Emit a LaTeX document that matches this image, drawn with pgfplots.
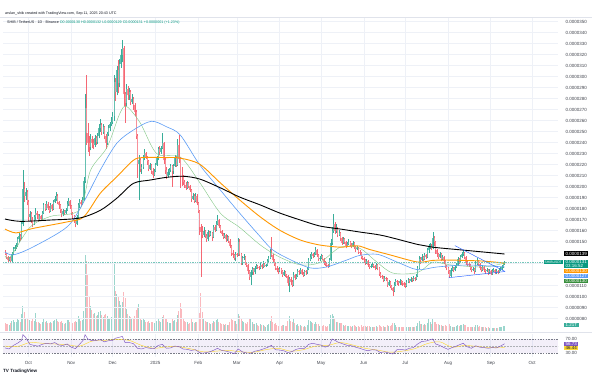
\documentclass[border=0pt]{standalone}
\usepackage{fontspec}
\setmainfont{Liberation Sans}
\usepackage{pgfplots}
\usepackage{pgfplotstable}
\pgfplotsset{compat=1.18}
\definecolor{tvup}{HTML}{089981}
\definecolor{tvdn}{HTML}{F23645}
\definecolor{gridc}{HTML}{EEF1F7}
\definecolor{txt}{HTML}{131722}
\definecolor{maor}{HTML}{FF9800}
\definecolor{mabl}{HTML}{5B9CF6}
\definecolor{magr}{HTML}{81C784}
\definecolor{lblgr}{HTML}{388E3C}
\definecolor{rsic}{HTML}{7E57C2}
\definecolor{rsima}{HTML}{FDD835}
\definecolor{tline}{HTML}{2962FF}
\definecolor{sepc}{HTML}{E0E3EB}
\definecolor{bandc}{HTML}{787B86}
\newcommand{\lf}{\fontsize{4.5}{5}\selectfont}
\newcommand{\ttlf}{\fontsize{3.7}{4.2}\selectfont}

\pgfplotstableread{
d o h l c v
0 14.05 14.20 13.75 13.90 1.8
1 13.90 14.00 13.45 13.60 1.5
2 13.60 13.70 13.15 13.30 1.6
3 13.30 13.65 13.20 13.50 1.4
4 13.50 13.60 13.05 13.20 1.7
5 13.20 14.05 13.10 13.90 2.2
6 13.90 14.50 13.80 14.30 2.4
7 14.30 14.70 14.15 14.50 2.0
8 14.50 14.85 14.30 14.60 1.9
9 14.60 15.40 14.50 15.20 2.6
10 15.20 15.80 15.00 15.50 2.5
11 15.50 15.70 15.05 15.30 2.1
12 15.30 16.90 15.20 16.60 3.8
13 16.60 21.50 16.40 19.80 5.6
14 19.80 20.40 18.60 19.20 4.2
15 19.20 19.90 18.80 19.50 3.0
16 19.50 19.70 18.30 18.60 2.9
17 18.60 18.80 16.90 17.20 3.6
18 17.20 17.80 16.90 17.50 2.4
19 17.50 17.70 16.70 17.00 2.2
20 17.00 17.20 16.30 16.60 2.6
21 16.60 17.40 16.50 17.20 2.3
22 17.20 18.10 17.00 17.60 4.0
23 17.60 17.80 17.10 17.40 2.0
24 17.40 17.50 16.80 17.00 1.9
25 17.00 17.50 16.90 17.30 1.7
26 17.30 17.40 16.90 17.10 1.6
27 17.10 17.80 17.00 17.60 1.9
28 17.60 18.50 17.50 18.30 2.6
29 18.30 18.40 17.80 18.00 2.0
30 18.00 18.70 17.90 18.40 2.2
31 18.40 18.60 17.90 18.10 1.8
32 18.10 18.20 17.60 17.80 1.7
33 17.80 18.50 17.70 18.30 2.0
34 18.30 18.40 17.80 18.00 1.7
35 18.00 18.80 17.90 18.60 2.3
36 18.60 19.20 18.50 18.90 2.4
37 18.90 19.50 18.70 19.20 2.6
38 19.20 19.30 18.40 18.60 2.2
39 18.60 18.70 18.00 18.30 2.0
40 18.30 18.40 17.60 17.90 2.1
41 17.90 18.00 17.20 17.50 2.3
42 17.50 18.00 17.30 17.80 1.8
43 17.80 17.90 17.40 17.60 1.6
44 17.60 18.10 17.50 17.90 1.7
45 17.90 18.70 17.80 18.40 2.4
46 18.40 19.00 18.20 18.70 2.5
47 18.70 18.80 18.00 18.20 2.0
48 18.20 18.30 17.40 17.60 2.1
49 17.60 17.70 17.10 17.30 1.8
50 17.30 17.40 16.70 16.90 1.9
51 16.90 17.00 16.30 16.60 2.2
52 16.60 17.40 16.50 17.20 2.0
53 17.20 18.50 17.10 18.30 3.4
54 18.30 18.90 18.10 18.60 2.8
55 18.60 18.80 18.20 18.40 2.2
56 18.40 19.10 18.30 18.80 2.4
57 18.80 20.90 18.70 20.50 4.5
58 20.50 28.40 20.30 27.20 17.0
59 27.20 30.20 23.80 24.90 15.5
60 24.90 25.80 23.20 24.00 12.6
61 24.00 24.60 22.80 23.60 7.5
62 23.60 24.80 23.30 24.30 5.5
63 24.30 24.60 23.50 24.00 4.6
64 24.00 24.30 23.40 23.80 3.8
65 23.80 24.70 23.60 24.40 4.0
66 24.40 24.60 23.80 24.10 3.4
67 24.10 24.90 23.90 24.60 3.6
68 24.60 25.70 24.40 25.30 4.2
69 25.30 26.20 25.00 25.60 4.4
70 25.60 25.80 24.70 25.00 3.6
71 25.00 25.70 24.80 25.40 3.2
72 25.40 25.50 24.30 24.60 3.5
73 24.60 24.80 23.40 24.00 3.8
74 24.00 25.00 23.80 24.80 3.3
75 24.80 25.60 24.60 25.30 3.0
76 25.30 25.90 25.10 25.70 2.9
77 25.70 26.30 25.50 25.90 3.1
78 25.90 26.80 25.70 26.40 3.8
79 26.40 30.20 26.00 29.50 14.9
80 29.50 29.90 27.80 28.60 9.0
81 28.60 31.00 28.30 30.60 8.2
82 30.60 31.50 28.50 29.40 7.8
83 29.40 31.60 29.10 31.20 6.6
84 31.20 32.50 30.80 32.00 5.8
85 32.00 33.30 31.30 32.60 6.4
86 32.60 32.80 27.30 28.40 8.8
87 28.40 28.60 25.80 27.60 7.4
88 27.60 29.30 27.30 28.90 5.0
89 28.90 29.20 27.90 28.30 3.8
90 28.30 29.00 27.90 28.60 3.4
91 28.60 28.80 27.40 27.70 3.2
92 27.70 28.40 27.50 28.00 2.8
93 28.00 28.20 27.00 27.40 3.0
94 27.40 27.60 26.40 26.80 3.4
95 26.80 27.00 24.30 24.60 4.6
96 24.60 24.80 20.80 22.10 5.2
97 22.10 22.90 18.80 22.40 6.0
98 22.40 22.60 21.30 21.60 3.0
99 21.60 22.10 21.20 21.80 2.5
100 21.80 22.90 21.60 22.60 2.6
101 22.60 23.40 22.40 23.10 2.4
102 23.10 23.20 22.50 22.70 2.0
103 22.70 22.80 22.00 22.30 1.9
104 22.30 22.40 21.40 21.60 2.2
105 21.60 22.20 21.50 22.00 1.7
106 22.00 22.10 21.20 21.40 1.9
107 21.40 21.70 20.80 21.10 2.1
108 21.10 21.60 21.00 21.40 1.8
109 21.40 22.20 21.30 22.00 2.0
110 22.00 22.80 21.90 22.60 2.3
111 22.60 23.60 22.40 23.40 2.7
112 23.40 23.70 22.90 23.20 2.2
113 23.20 23.70 23.00 23.50 2.0
114 23.50 24.90 23.40 24.00 3.2
115 24.00 24.10 22.10 22.40 3.6
116 22.40 22.60 21.20 21.50 3.0
117 21.50 21.80 20.70 21.00 2.6
118 21.00 21.60 20.90 21.30 2.0
119 21.30 21.70 21.10 21.50 1.7
120 21.50 22.10 21.30 21.90 1.8
121 21.90 22.00 20.00 21.40 3.0
122 21.40 22.10 21.20 21.90 2.2
123 21.90 22.90 21.80 22.60 2.5
124 22.60 22.80 21.80 22.00 2.1
125 22.00 24.30 21.90 23.80 3.6
126 23.80 24.70 22.20 22.50 4.4
127 22.50 22.70 19.90 21.00 6.2
128 21.00 21.80 20.10 20.90 4.8
129 20.90 21.10 20.20 20.40 2.6
130 20.40 20.60 19.90 20.20 2.2
131 20.20 20.40 19.70 19.90 2.0
132 19.90 20.50 19.80 20.30 1.9
133 20.30 20.40 19.90 20.10 1.6
134 20.10 20.20 19.50 19.70 1.8
135 19.70 19.80 18.60 18.90 2.6
136 18.90 19.40 18.80 19.20 1.9
137 19.20 19.30 18.50 18.70 1.8
138 18.70 19.40 18.60 19.20 1.9
139 19.20 19.30 18.30 18.50 2.0
140 18.50 18.60 17.60 17.80 2.2
141 17.80 17.90 15.60 16.30 4.0
142 16.30 16.60 11.80 15.90 8.4
143 15.90 16.40 15.30 15.60 4.2
144 15.60 16.30 15.40 16.00 2.8
145 16.00 16.10 15.30 15.50 2.2
146 15.50 15.70 15.00 15.20 2.0
147 15.20 16.10 15.10 15.90 2.1
148 15.90 16.00 15.40 15.60 1.7
149 15.60 16.00 15.50 15.80 1.6
150 15.80 15.90 15.10 15.40 1.7
151 15.40 16.50 15.30 16.30 2.3
152 16.30 16.50 15.90 16.10 1.9
153 16.10 16.90 16.00 16.60 2.4
154 16.60 17.40 16.50 17.00 2.8
155 17.00 17.10 16.20 16.40 2.0
156 16.40 16.50 15.80 16.00 1.7
157 16.00 16.10 15.50 15.70 1.6
158 15.70 15.80 15.20 15.40 1.5
159 15.40 15.80 15.30 15.60 1.4
160 15.60 15.70 15.00 15.20 1.5
161 15.20 15.60 15.10 15.40 1.3
162 15.40 15.50 14.90 15.10 1.4
163 15.10 15.20 14.40 14.60 2.0
164 14.60 14.70 13.70 14.00 3.0
165 14.00 14.20 13.50 13.80 2.4
166 13.80 13.90 13.30 13.50 2.2
167 13.50 14.10 13.20 13.90 2.3
168 13.90 14.00 13.60 13.80 1.6
169 13.80 15.30 13.70 15.00 3.9
170 15.00 15.20 13.70 13.90 3.4
171 13.90 14.00 12.90 13.10 2.6
172 13.10 13.70 12.90 13.50 2.3
173 13.50 13.90 13.30 13.60 2.0
174 13.60 13.70 12.90 13.00 1.8
175 13.00 13.10 12.70 12.90 1.5
176 12.90 13.00 12.10 12.30 2.0
177 12.30 12.40 11.50 11.80 2.6
178 11.80 12.40 11.10 12.20 2.8
179 12.20 12.70 12.00 12.50 2.1
180 12.50 12.60 12.00 12.20 1.6
181 12.20 12.80 12.10 12.60 1.6
182 12.60 13.00 12.50 12.80 1.7
183 12.80 12.90 12.50 12.70 1.3
184 12.70 12.80 12.40 12.60 1.2
185 12.60 13.10 12.50 12.90 1.5
186 12.90 13.00 12.50 12.70 1.3
187 12.70 13.20 12.60 13.00 1.4
188 13.00 13.10 12.70 12.80 1.2
189 12.80 13.00 12.70 12.90 1.0
190 12.90 13.40 12.80 13.20 1.3
191 13.20 13.70 13.10 13.50 1.6
192 13.50 14.30 13.40 14.00 2.2
193 14.00 15.40 13.60 13.80 3.4
194 13.80 13.90 13.10 13.30 2.0
195 13.30 13.40 12.80 13.00 1.6
196 13.00 13.10 12.40 12.60 1.7
197 12.60 12.80 12.20 12.40 1.4
198 12.40 12.60 12.10 12.30 1.2
199 12.30 12.70 12.20 12.50 1.3
200 12.50 12.60 12.10 12.30 1.2
201 12.30 12.40 11.80 12.00 1.4
202 12.00 12.40 11.90 12.20 1.3
203 12.20 12.30 11.80 12.00 1.2
204 12.00 12.10 11.70 11.90 1.1
205 11.90 12.00 11.00 11.20 2.2
206 11.20 11.80 10.40 11.60 3.4
207 11.60 11.80 11.10 11.30 2.3
208 11.30 11.50 10.90 11.10 1.9
209 11.10 12.20 11.00 12.00 2.8
210 12.00 12.10 11.50 11.70 1.8
211 11.70 12.10 11.60 11.90 1.4
212 11.90 12.50 11.80 12.30 1.5
213 12.30 12.40 12.00 12.20 1.2
214 12.20 12.60 12.10 12.40 1.3
215 12.40 12.50 12.00 12.10 1.1
216 12.10 12.20 11.80 12.00 1.0
217 12.00 12.40 11.90 12.30 1.1
218 12.30 12.40 12.00 12.20 1.0
219 12.20 12.70 12.10 12.50 1.3
220 12.50 13.50 12.40 13.30 2.4
221 13.30 13.90 13.20 13.60 2.3
222 13.60 14.10 13.40 13.90 2.1
223 13.90 14.00 13.50 13.70 1.7
224 13.70 14.10 13.60 13.90 1.6
225 13.90 14.50 13.80 14.20 1.9
226 14.20 14.30 13.60 13.80 1.6
227 13.80 13.90 13.20 13.40 1.5
228 13.40 13.70 13.20 13.50 1.2
229 13.50 13.90 13.40 13.70 1.3
230 13.70 13.80 13.30 13.40 1.2
231 13.40 13.50 12.90 13.10 1.3
232 13.10 13.20 12.80 13.00 1.1
233 13.00 13.10 12.70 12.90 1.0
234 12.90 13.00 12.60 12.80 1.1
235 12.80 13.50 12.70 13.30 1.6
236 13.30 15.20 13.20 14.90 3.6
237 14.90 16.30 14.70 16.00 3.8
238 16.00 17.50 15.80 16.60 3.4
239 16.60 16.80 15.70 16.00 2.6
240 16.00 16.60 15.80 16.20 2.0
241 16.20 16.30 15.40 15.60 2.1
242 15.60 16.10 15.50 15.80 1.7
243 15.80 15.90 15.10 15.30 1.8
244 15.30 15.40 14.70 14.90 1.7
245 14.90 15.40 14.80 15.20 1.4
246 15.20 15.30 14.80 15.00 1.2
247 15.00 15.10 14.40 14.60 1.4
248 14.60 15.00 14.50 14.80 1.2
249 14.80 15.20 14.70 15.00 1.2
250 15.00 15.10 14.60 14.70 1.1
251 14.70 14.90 14.40 14.60 1.0
252 14.60 15.10 14.50 14.90 1.2
253 14.90 15.00 14.30 14.50 1.3
254 14.50 14.60 14.10 14.30 1.2
255 14.30 14.60 14.20 14.40 1.0
256 14.40 14.50 13.90 14.10 1.1
257 14.10 14.20 13.80 14.00 1.0
258 14.00 14.10 13.40 13.60 1.3
259 13.60 13.70 13.30 13.50 1.0
260 13.50 13.60 13.10 13.30 1.1
261 13.30 13.40 12.90 13.10 1.2
262 13.10 13.40 13.00 13.20 1.0
263 13.20 13.30 12.70 12.90 1.2
264 12.90 13.00 12.50 12.70 1.1
265 12.70 13.00 12.60 12.80 1.0
266 12.80 13.10 12.70 12.90 0.9
267 12.90 13.00 12.60 12.80 0.9
268 12.80 12.90 12.40 12.60 1.0
269 12.60 13.10 12.50 12.90 1.1
270 12.90 13.00 12.40 12.60 1.0
271 12.60 12.70 11.90 12.10 1.4
272 12.10 12.20 11.70 11.90 1.2
273 11.90 12.00 11.60 11.80 1.0
274 11.80 11.90 11.30 11.50 1.2
275 11.50 11.90 11.40 11.70 1.0
276 11.70 11.80 11.40 11.60 0.9
277 11.60 11.70 10.90 11.10 1.3
278 11.10 11.50 11.00 11.30 1.1
279 11.30 11.40 10.80 11.00 1.2
280 11.00 11.10 10.60 10.80 1.3
281 10.80 10.90 10.10 10.50 1.8
282 10.50 11.30 10.40 11.10 1.7
283 11.10 11.60 11.00 11.40 1.4
284 11.40 11.50 11.10 11.30 1.0
285 11.30 11.40 11.00 11.20 0.9
286 11.20 11.60 11.10 11.40 0.9
287 11.40 11.50 11.10 11.30 0.8
288 11.30 11.40 11.00 11.20 0.8
289 11.20 11.30 10.90 11.10 0.9
290 11.10 11.20 10.80 11.00 0.9
291 11.00 11.50 10.90 11.30 1.0
292 11.30 11.70 11.20 11.50 1.0
293 11.50 11.60 11.20 11.40 0.8
294 11.40 11.80 11.30 11.60 0.9
295 11.60 11.70 11.30 11.50 0.8
296 11.50 11.90 11.40 11.70 0.9
297 11.70 11.80 11.40 11.60 0.8
298 11.60 12.10 11.50 11.90 1.1
299 11.90 12.80 11.80 12.60 1.8
300 12.60 13.70 12.50 13.40 2.2
301 13.40 13.60 13.00 13.30 1.6
302 13.30 13.90 13.20 13.60 1.5
303 13.60 13.70 13.20 13.40 1.3
304 13.40 14.00 13.30 13.80 1.5
305 13.80 13.90 13.40 13.60 1.3
306 13.60 14.40 13.50 14.20 1.8
307 14.20 14.80 14.00 14.50 2.7
308 14.50 14.90 14.30 14.60 2.0
309 14.60 14.80 14.20 14.40 1.6
310 14.40 15.90 14.30 15.30 2.6
311 15.30 15.50 14.60 15.00 2.0
312 15.00 15.10 13.90 14.20 1.9
313 14.20 14.30 13.60 13.90 1.6
314 13.90 14.00 13.40 13.60 1.5
315 13.60 14.10 13.50 13.90 1.3
316 13.90 14.00 13.20 13.40 1.4
317 13.40 13.80 13.30 13.60 1.1
318 13.60 13.70 13.00 13.20 1.2
319 13.20 13.30 12.60 12.80 1.3
320 12.80 12.90 12.40 12.60 1.1
321 12.60 12.70 12.10 12.30 1.3
322 12.30 12.40 11.70 11.90 1.5
323 11.90 12.60 11.80 12.40 1.2
324 12.40 12.80 12.30 12.60 1.0
325 12.60 12.70 12.20 12.40 0.9
326 12.40 12.90 12.30 12.70 1.0
327 12.70 13.10 12.60 12.90 1.1
328 12.90 13.60 12.80 13.40 1.4
329 13.40 13.50 13.00 13.20 1.1
330 13.20 13.80 13.10 13.60 1.3
331 13.60 14.10 13.50 13.90 1.4
332 13.90 14.20 13.70 14.00 1.5
333 14.00 14.10 13.40 13.60 1.3
334 13.60 13.70 12.90 13.10 1.4
335 13.10 13.20 12.80 13.00 1.0
336 13.00 13.10 12.70 12.90 0.9
337 12.90 13.00 12.40 12.60 1.0
338 12.60 12.70 12.20 12.40 1.0
339 12.40 12.70 12.30 12.50 0.8
340 12.50 12.60 12.10 12.30 0.9
341 12.30 13.20 12.20 13.00 1.4
342 13.00 13.50 12.90 13.20 1.3
343 13.20 13.30 12.80 13.00 1.0
344 13.00 13.10 12.40 12.60 1.1
345 12.60 12.70 12.20 12.40 0.9
346 12.40 12.90 12.30 12.70 0.9
347 12.70 12.80 12.20 12.40 0.9
348 12.40 12.50 12.10 12.30 0.8
349 12.30 12.60 12.20 12.40 0.7
350 12.40 12.50 12.00 12.20 0.8
351 12.20 12.50 12.10 12.30 0.7
352 12.30 12.40 11.95 12.10 0.8
353 12.10 12.50 12.00 12.30 0.7
354 12.30 12.60 12.20 12.40 0.7
355 12.40 12.50 12.05 12.20 0.7
356 12.20 12.50 12.10 12.30 0.6
357 12.30 12.40 12.05 12.20 0.6
358 12.20 12.60 12.15 12.40 0.8
359 12.40 12.70 12.30 12.50 0.8
360 12.50 12.90 12.40 12.70 1.0
361 12.70 13.10 12.60 12.95 1.1
362 12.95 13.22 12.90 13.10 1.21
}\ohlc

\begin{document}
\begin{tikzpicture}
\useasboundingbox (0,0) rectangle (592bp,374bp);
\fill[white] (0,0) rectangle (592bp,374bp);

% ---------- volume (behind the price) ----------
\begin{axis}[at={(3bp,43bp)}, anchor=south west, scale only axis,
  width=555bp, height=314bp, xmin=-1.45, xmax=400.7, ymin=0, ymax=70,
  hide axis]
\addplot[ycomb, draw=tvup!40!white, line width=0.95bp,
  restrict expr to domain={\thisrow{c}-\thisrow{o}}{0:100}]
  table[x=d, y=v] {\ohlc};
\addplot[ycomb, draw=tvdn!35!white, line width=0.95bp,
  restrict expr to domain={\thisrow{c}-\thisrow{o}}{-100:-0.0001}]
  table[x=d, y=v] {\ohlc};
\end{axis}

% ---------- price pane ----------
\begin{axis}[at={(3bp,43bp)}, anchor=south west, scale only axis,
  width=555bp, height=314bp, xmin=-1.45, xmax=400.7, ymin=6.88, ymax=35.43,
  axis line style={draw=none}, major tick length=0pt,
  xtick={17,48,78,109,140,168,199,229,260,290,321,352,382}, xticklabels={},
  ytick={8,9,...,35},
  yticklabels={0.0000080,0.0000090,0.0000100,0.0000110,,,,0.0000150,0.0000160,0.0000170,0.0000180,0.0000190,0.0000200,0.0000210,0.0000220,0.0000230,0.0000240,0.0000250,0.0000260,0.0000270,0.0000280,0.0000290,0.0000300,0.0000310,0.0000320,0.0000330,0.0000340,0.0000350},
  yticklabel pos=right,
  yticklabel style={font=\lf, text=txt!80!white, anchor=west, inner xsep=1.5bp, xshift=6bp},
  grid=major, major grid style={draw=gridc, line width=0.6bp},
  clip mode=individual]

% wicks
\addplot[draw=none, mark=none,
  restrict expr to domain={\thisrow{c}-\thisrow{o}}{0:100},
  error bars/.cd, y dir=plus, y explicit, error mark=none,
  error bar style={draw=tvup!80!white, solid, line width=0.3bp}]
  table[x=d, y=l, y error plus expr={\thisrow{h}-\thisrow{l}}] {\ohlc};
\addplot[draw=none, mark=none,
  restrict expr to domain={\thisrow{c}-\thisrow{o}}{-100:-0.0001},
  error bars/.cd, y dir=plus, y explicit, error mark=none,
  error bar style={draw=tvdn!75!white, solid, line width=0.3bp}]
  table[x=d, y=l, y error plus expr={\thisrow{h}-\thisrow{l}}] {\ohlc};
% bodies
\addplot[draw=none, mark=none,
  restrict expr to domain={\thisrow{c}-\thisrow{o}}{0:100},
  error bars/.cd, y dir=plus, y explicit, error mark=none,
  error bar style={draw=tvup!62!white, solid, line width=0.95bp}]
  table[x=d, y expr={min(\thisrow{o},\thisrow{c})}, y error plus expr={max(abs(\thisrow{c}-\thisrow{o}),0.08)}] {\ohlc};
\addplot[draw=none, mark=none,
  restrict expr to domain={\thisrow{c}-\thisrow{o}}{-100:-0.0001},
  error bars/.cd, y dir=plus, y explicit, error mark=none,
  error bar style={draw=tvdn!55!white, solid, line width=0.95bp}]
  table[x=d, y expr={min(\thisrow{o},\thisrow{c})}, y error plus expr={max(abs(\thisrow{c}-\thisrow{o}),0.08)}] {\ohlc};

% moving averages
\addplot[magr, line width=0.4bp, smooth] coordinates {
(0,13.7) (4,13.64) (18,16.3) (33,17.3) (54,17.9) (62,21.5) (74,23.6) (83,26.6) (88,27.3) (98,25.8) (110,23.0) (127,22.7) (141,20.4) (156,17.6) (170,16.3) (185,14.7) (199,13.6) (214,12.9) (228,13.1) (243,14.5) (257,14.4) (268,13.3) (281,12.15) (299,12.2) (310,13.15) (322,12.9) (346,12.7) (362,13.05)};
\addplot[mabl, line width=0.6bp, smooth] coordinates {
(0,14.06) (6,13.8) (20,14.5) (45,16.35) (57,18.6) (69,21.5) (81,23.95) (93,25.15) (106,25.95) (117,25.45) (127,24.7) (141,22.0) (156,19.7) (170,17.6) (185,15.45) (194,14.25) (207,13.35) (221,12.62) (233,12.7) (248,13.35) (257,13.75) (270,13.85) (285,13.1) (299,12.45) (313,12.7) (335,12.88) (362,12.7)};
\addplot[maor, line width=0.9bp, smooth] coordinates {
(0,16.15) (8,15.8) (20,16.2) (45,16.8) (57,17.25) (69,19.4) (81,20.9) (93,22.4) (100,22.65) (117,22.65) (127,22.6) (141,22.05) (156,20.35) (170,18.8) (185,17.25) (199,16.05) (214,15.15) (228,14.7) (243,14.5) (250,14.6) (257,14.6) (264,14.3) (279,13.8) (299,13.15) (310,13.3) (322,13.33) (346,13.24) (362,13.05)};
\addplot[black, line width=0.9bp, smooth] coordinates {
(0,17.06) (11,16.85) (33,16.97) (54,17.15) (69,17.85) (81,18.95) (93,20.3) (105,20.6) (117,20.85) (129,20.95) (141,20.7) (156,19.9) (170,19.06) (185,18.34) (199,17.61) (214,16.97) (228,16.43) (243,16.15) (257,15.88) (274,15.55) (299,14.75) (310,14.5) (335,14.2) (362,13.88)};

% triangle trendlines
\addplot[tline, line width=0.45bp] coordinates {(326,14.64) (362.3,12.29)};
\addplot[tline, line width=0.45bp] coordinates {(321.7,11.73) (362.3,12.29)};

% last price line
\addplot[tvup!55!white, line width=0.35bp, dash pattern=on 0.6bp off 1.1bp] coordinates {(-1.45,13.1) (400.7,13.1)};

% price scale labels
\node[fill=black, text=white, font=\lf, anchor=west, inner xsep=1.5bp, inner ysep=0.6bp, xshift=6bp] at (axis cs:400.7,13.93) {0.0000139};
\node[fill=tvup, text=white, font=\lf, anchor=west, inner xsep=1.5bp, inner ysep=0.5bp, xshift=6bp, align=left] at (axis cs:400.7,12.97) {0.0000131\\[-0.6bp]03:16:52};
\node[fill=maor, text=white, font=\lf, anchor=west, inner xsep=1.5bp, inner ysep=0.6bp, xshift=6bp] at (axis cs:400.7,12.36) {0.0000130};
\node[fill=mabl, text=white, font=\lf, anchor=west, inner xsep=1.5bp, inner ysep=0.6bp, xshift=6bp] at (axis cs:400.7,11.9) {0.0000127};
\node[fill=lblgr, text=white, font=\lf, anchor=west, inner xsep=1.5bp, inner ysep=0.6bp, xshift=6bp] at (axis cs:400.7,11.44) {0.0000130};
\node[fill=tvup, text=white, font=\fontsize{3.4}{4}\selectfont, anchor=east, inner xsep=1bp, inner ysep=0.8bp, xshift=5bp] at (axis cs:400.7,13.15) {SHIBUSDT};
\node[fill=tvup!80!white, text=white, font=\lf, anchor=west, inner xsep=1.5bp, inner ysep=0.6bp, xshift=6bp] at (axis cs:400.7,7.45) {1.21T};
\end{axis}

% ---------- RSI pane ----------
\begin{axis}[at={(3bp,17.3bp)}, anchor=south west, scale only axis,
  width=555bp, height=22.4bp, xmin=-1.45, xmax=400.7, ymin=20.5, ymax=83,
  axis line style={draw=none}, major tick length=0pt,
  xtick={17,48,78,109,140,168,199,229,260,290,321,352,382},
  xticklabels={Oct,Nov,Dec,2025,Feb,Mar,Apr,May,Jun,Jul,Aug,Sep,Oct},
  xticklabel style={font=\lf, text=txt!80!white, yshift=-1.2bp},
  ytick={30,70}, yticklabels={30.00,70.00},
  yticklabel pos=right,
  yticklabel style={font=\lf, text=txt!80!white, anchor=west, inner xsep=1.5bp, xshift=6bp},
  xmajorgrids, major grid style={draw=gridc, line width=0.6bp},
  clip mode=individual]
\addplot[draw=none, fill=rsic, fill opacity=0.09] coordinates {(-1.45,30) (400.7,30) (400.7,70) (-1.45,70)} -- cycle;
\addplot[bandc, line width=0.3bp, dash pattern=on 1.5bp off 1.2bp] coordinates {(-1.45,70) (400.7,70)};
\addplot[bandc, line width=0.3bp, dash pattern=on 1.5bp off 1.2bp] coordinates {(-1.45,30) (400.7,30)};
\addplot[bandc!60!white, line width=0.25bp, dash pattern=on 0.5bp off 1bp] coordinates {(-1.45,50) (400.7,50)};
\addplot[rsima, line width=0.45bp, smooth] coordinates {
(0,50) (9,49) (18,60) (27,58) (36,56) (45,54) (54,50) (63,64) (72,66) (81,68) (90,66) (99,52) (108,44) (117,48) (126,48) (135,42) (144,34) (153,36) (162,38) (171,34) (180,33) (189,40) (198,44) (207,36) (216,40) (225,50) (234,52) (243,60) (252,53) (261,44) (270,39) (279,33) (288,36) (297,43) (306,57) (315,62) (324,47) (333,52) (342,49) (351,46) (362,46.44)};
\addplot[rsic, line width=0.45bp] coordinates {
(0,45) (3,42) (6,52) (9,58) (12,66) (13,82) (15,74) (18,55) (21,52) (24,50) (27,55) (30,58) (33,56) (36,60) (39,53) (42,52) (45,56) (48,47) (51,43) (54,55) (57,68) (58,82) (60,70) (63,65) (66,66) (69,68) (72,62) (75,65) (78,66) (80,72) (82,74) (85,77) (87,60) (90,60) (93,57) (96,44) (99,42) (102,46) (105,44) (108,43) (111,52) (114,55) (117,44) (120,45) (123,50) (126,49) (129,42) (132,41) (135,38) (138,40) (141,32) (143,30) (146,32) (149,35) (152,40) (154,44) (157,38) (160,36) (163,33) (166,29) (169,42) (172,34) (175,31) (178,30) (181,36) (184,38) (187,42) (190,46) (193,52) (196,40) (199,39) (202,37) (205,32) (208,35) (211,41) (214,44) (217,44) (220,55) (223,58) (226,55) (229,53) (232,47) (235,52) (237,70) (239,66) (242,60) (245,56) (248,52) (251,51) (254,47) (257,44) (260,40) (263,37) (266,40) (269,39) (272,32) (275,34) (278,31) (281,28) (284,40) (287,41) (290,39) (293,44) (296,46) (299,56) (302,63) (305,64) (308,68) (310,70) (312,56) (315,52) (318,46) (321,41) (324,46) (327,50) (330,55) (332,58) (335,48) (338,44) (341,51) (344,47) (347,46) (350,44) (353,46) (356,45) (359,50) (362,56.73)};
\node[fill=rsic, text=white, font=\lf, anchor=west, inner xsep=1.5bp, inner ysep=0.5bp, xshift=6bp] at (axis cs:400.7,56.73) {56.73};
\node[fill=rsima, text=txt, font=\lf, anchor=west, inner xsep=1.5bp, inner ysep=0.5bp, xshift=6bp] at (axis cs:400.7,45.0) {46.44};
\end{axis}

% pane borders and texts
\draw[sepc, line width=0.5bp] (0,356.7bp) -- (592bp,356.7bp);
\draw[sepc, line width=0.5bp] (0,41.6bp) -- (592bp,41.6bp);
\node[anchor=west, font=\ttlf, text=txt, inner sep=0pt] at (5bp,360bp) {arslan\_shib created with TradingView.com, Sep 11, 2025 20:43 UTC};
\node[anchor=west, font=\ttlf, text=txt, inner sep=0pt] at (7bp,351.5bp) {SHIB / TetherUS · 1D · Binance \textcolor{tvup}{O0.0000130 H0.0000132 L0.0000129 C0.0000131 +0.0000001 (+1.23\%)}};
\node[anchor=west, font=\fontsize{4.6}{5}\selectfont\bfseries, text=txt, inner sep=0pt] at (3bp,3bp) {TV TradingView};
\end{tikzpicture}
\end{document}
